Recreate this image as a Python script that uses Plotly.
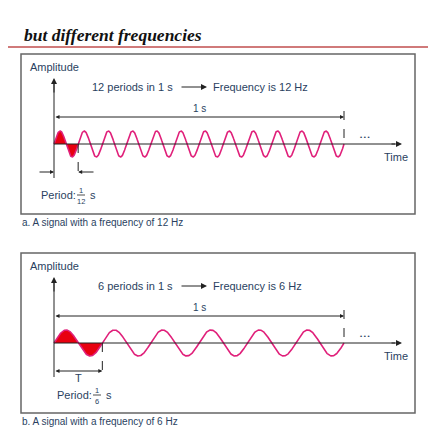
import numpy as np
import plotly.graph_objects as go

# ---- data ----
frequencies_hz = [12, 6]
duration_s = 1.0
amplitude = 1.0
captions = ["a. A signal with a frequency of 12 Hz", "b. A signal with a frequency of 6 Hz"]
period_texts = ["12 periods in 1 s", "6 periods in 1 s"]
freq_texts = ["Frequency is 12 Hz", "Frequency is 6 Hz"]
period_denoms = ["12", "6"]

# ---- layout geometry (pixels) ----
X0, X1 = 54, 344          # t=0 and t=1 s
AMP_PX = 13
axis_y = [144, 343]
box_top = [54, 253]
OFF = 8  # compensate page margin

fig = go.Figure()
shapes, ann = [], []
WAVE = "#e0207a"
FILL = "#e8000f"
F = "Liberation Sans, Arial"
FS = 11

def tx(t):
    return X0 + (X1 - X0) * t / duration_s

for i, f in enumerate(frequencies_hz):
    ay = axis_y[i]
    top = box_top[i]
    t = np.linspace(0, duration_s, 1200)
    yv = ay - AMP_PX * amplitude * np.sin(2 * np.pi * f * t)
    T = 1.0 / f
    tp = np.linspace(0, T, 120)
    yp = ay - AMP_PX * amplitude * np.sin(2 * np.pi * f * tp)
    fig.add_trace(go.Scatter(x=list(tx(tp)) + [tx(0)], y=list(yp) + [ay], fill="toself",
                             fillcolor=FILL, line=dict(width=0), mode="lines", hoverinfo="skip"))
    fig.add_trace(go.Scatter(x=tx(t), y=yv, mode="lines", line=dict(color=WAVE, width=1.6),
                             hoverinfo="skip"))
    xp = tx(T)
    shapes.append(dict(type="rect", x0=21, x1=415, y0=top, y1=top + 160,
                       line=dict(color="#666", width=1.5)))
    shapes.append(dict(type="line", x0=X0, x1=X0, y0=ay - 60, y1=ay + 34, line=dict(color="#222", width=1)))
    shapes.append(dict(type="line", x0=X0, x1=395, y0=ay, y1=ay, line=dict(color="#222", width=1)))
    ann.append(dict(x=X0, y=ay - 66, ax=X0, ay=ay - 50, axref="x", ayref="y", text="", showarrow=True,
                    arrowhead=2, arrowsize=1.2, arrowwidth=1, arrowcolor="#222"))
    ann.append(dict(x=402, y=ay, ax=390, ay=ay, axref="x", ayref="y", text="", showarrow=True,
                    arrowhead=2, arrowsize=1.2, arrowwidth=1, arrowcolor="#222"))
    dy = ay - 27
    ann.append(dict(x=X1, y=dy, ax=X0, ay=dy, axref="x", ayref="y", text="", showarrow=True,
                    arrowhead=2, arrowside="end+start", arrowsize=0.8, arrowwidth=1, arrowcolor="#222"))
    shapes.append(dict(type="line", x0=X1, x1=X1, y0=dy - 6, y1=ay, line=dict(color="#222", width=1, dash="dash")))
    ann.append(dict(x=(X0 + X1) / 2, y=dy - 9, text="1 s", showarrow=False, font=dict(size=10, family=F)))
    hy = ay - 57
    ann.append(dict(x=175, y=hy, text=period_texts[i], showarrow=False, xanchor="right", font=dict(size=FS, family=F)))
    ann.append(dict(x=207, y=hy, ax=180, ay=hy, axref="x", ayref="y", text="", showarrow=True,
                    arrowhead=2, arrowsize=1.2, arrowwidth=1, arrowcolor="#222"))
    ann.append(dict(x=211, y=hy, text=freq_texts[i], showarrow=False, xanchor="left", font=dict(size=FS, family=F)))
    ann.append(dict(x=28, y=top + 13, text="Amplitude", showarrow=False, xanchor="left", font=dict(size=FS, family=F)))
    ann.append(dict(x=358, y=ay - 7, text="<b>• • •</b>", showarrow=False, xanchor="left", font=dict(size=6, family=F)))
    ann.append(dict(x=382, y=ay + 13, text="Time", showarrow=False, xanchor="left", font=dict(size=FS, family=F)))
    ann.append(dict(x=20, y=top + 168, text=captions[i], showarrow=False, xanchor="left", font=dict(size=10, family=F)))
    shapes.append(dict(type="line", x0=xp, x1=xp, y0=ay, y1=ay + 34, line=dict(color="#222", width=1, dash="dash")))
    py = ay + 28
    if i == 0:
        ann.append(dict(x=X0, y=py, ax=38, ay=py, axref="x", ayref="y", text="", showarrow=True,
                        arrowhead=2, arrowsize=0.8, arrowwidth=1, arrowcolor="#222"))
        ann.append(dict(x=xp, y=py, ax=95, ay=py, axref="x", ayref="y", text="", showarrow=True,
                        arrowhead=2, arrowsize=0.8, arrowwidth=1, arrowcolor="#222"))
        lx, ly = 39, ay + 51
    else:
        ann.append(dict(x=xp, y=py, ax=X0, ay=py, axref="x", ayref="y", text="", showarrow=True,
                        arrowhead=2, arrowside="end+start", arrowsize=0.8, arrowwidth=1, arrowcolor="#222"))
        ann.append(dict(x=(X0 + xp) / 2, y=py + 7, text="T", showarrow=False, font=dict(size=FS, family=F)))
        lx, ly = 55, ay + 52
    ann.append(dict(x=lx, y=ly, text="Period:", showarrow=False, xanchor="left", font=dict(size=FS, family=F)))
    fx = lx + 42
    ann.append(dict(x=fx, y=ly - 5, text="1", showarrow=False, font=dict(size=7.5, family=F)))
    ann.append(dict(x=fx, y=ly + 6, text=period_denoms[i], showarrow=False, font=dict(size=7.5, family=F)))
    shapes.append(dict(type="line", x0=fx - 4, x1=fx + 4, y0=ly, y1=ly, line=dict(color="#222", width=0.8)))
    ann.append(dict(x=fx + 7, y=ly, text="s", showarrow=False, xanchor="left", font=dict(size=FS, family=F)))

TF = dict(family="Liberation Serif, Times New Roman", size=17.5, color="#111")
ann.append(dict(x=3, y=13, text="<b><i>Two signals with the same amplitude and phase,</i></b>", showarrow=False,
                xanchor="left", font=TF))
ann.append(dict(x=22, y=35, text="<b><i>but different frequencies</i></b>", showarrow=False, xanchor="left", font=TF))
shapes.append(dict(type="line", x0=0, x1=444, y0=47, y1=47, line=dict(color="#d07a7a", width=2)))

fig.update_layout(width=436, height=432, margin=dict(l=0, r=0, t=0, b=0), showlegend=False,
                  paper_bgcolor="white", plot_bgcolor="white", shapes=shapes, annotations=ann,
                  xaxis=dict(range=[OFF, 436 + OFF], visible=False, fixedrange=True),
                  yaxis=dict(range=[432 + OFF, OFF], visible=False, fixedrange=True))
fig.write_html("out.html", config={"displayModeBar": False})
